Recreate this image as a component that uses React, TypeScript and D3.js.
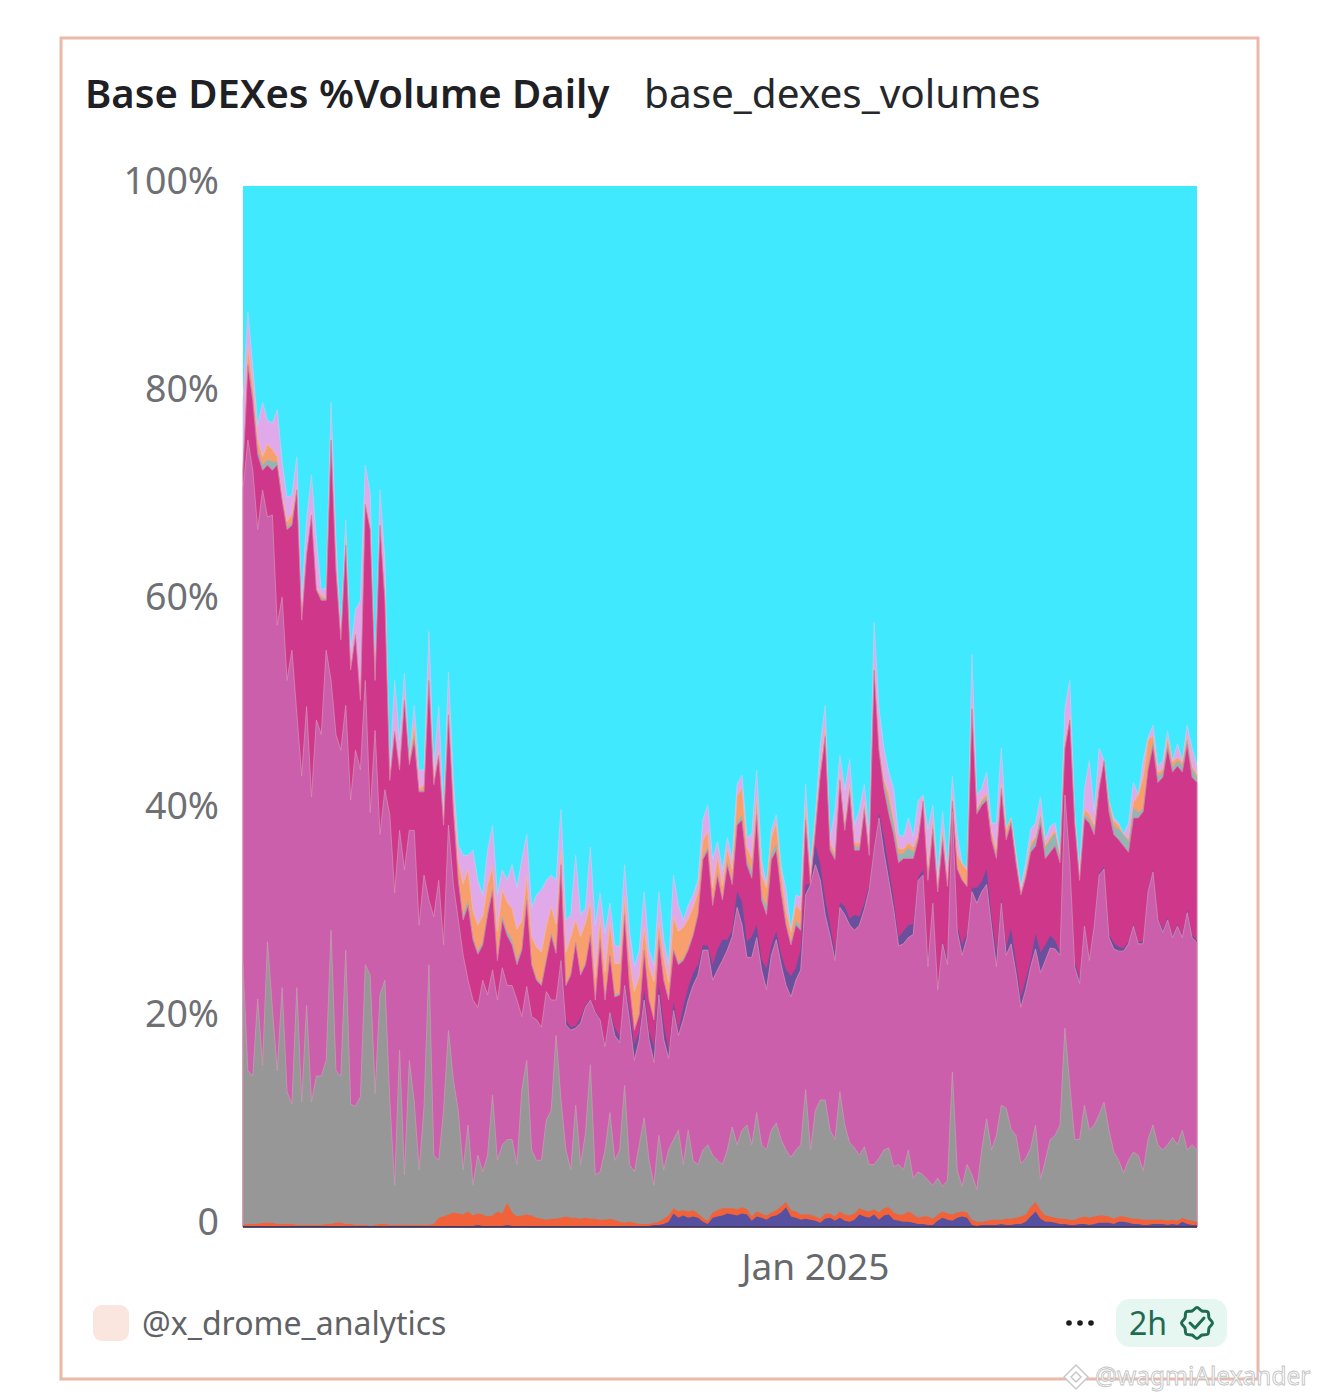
import * as d3 from 'd3';

// shares of daily DEX volume on Base, in % (one value per day)
const startDate = new Date(Date.UTC(2024, 8, 6));
const tickDate = new Date(Date.UTC(2025, 0, 1));
const tickLabel = 'Jan 2025';
const yTicks = [0, 20, 40, 60, 80, 100];

// cumulative upper edges
const lilacTop = [
  79.4,87.9,82.6,77,79.2,77.5,77.2,78.5,73.5,70.1,
  70.3,74,60.2,67.9,72.2,66,61.2,61.4,79.2,66,
  57.1,67.9,55.4,59.3,60.2,73.2,70.5,52.8,70.8,64.1,
  43.6,52.5,46.8,53.2,44.9,50.1,43.9,43.9,57.2,43.9,
  50,40,53.3,42.9,36.7,35.7,35.7,36.2,33.3,31.9,
  36.2,38.6,31.9,34.3,33.3,34.8,32.6,35.3,37.7,30.7,
  31.9,32.4,33.3,33.8,33.3,40.1,29.5,30,35.7,30,
  30.6,36.5,29,32.1,28.2,31.1,27.1,26.9,34.8,28.5,
  25,26.6,32.2,26.6,25.2,32.2,27.6,25.2,33.8,30.9,
  29.5,30.9,31.9,33.3,39.1,40.5,35.3,37,34.3,37.4,
  35.3,42.5,43.4,37.4,37.7,43.9,35.3,32.9,38.1,39.6,
  34.6,32.4,28.5,31.9,31.7,42.5,34.8,39.6,46.3,50.1,
  37.2,40.1,45.3,42,44.9,38.6,40.1,42.5,37.7,58.1,
  49.8,46,43.7,42.1,37.7,37.5,39.3,37.5,40.9,41.5,
  38.2,40.5,33.8,39.9,34.6,43.3,37.7,35,34.4,55,
  41.5,42.1,43.7,38.8,38.8,46,38.2,39.3,36,32.7,
  35,38.2,38.8,41.3,37.2,38.5,38.8,36,49.8,52.5,
  39.9,34.4,42.1,44.8,39.9,46,44.8,40.9,39.3,38.8,
  37.7,38.8,42.7,41.5,44.8,47,48.2,44.3,44.8,47.6,
  44.8,46.4,44.8,48.2,46,44.3,
];
const magentaTop = [
  72.7,82.8,79.4,74.2,72.7,73.2,72.7,73.2,69.8,67,
  67.4,70.8,58.3,64.6,68.4,61.2,60.2,60.2,75.6,63.1,
  56.4,65.5,53.5,56.9,50.6,69.4,67,52.5,67.4,60.2,
  42.9,47.6,43.9,50.6,44.4,46.8,41.8,41.8,52.5,42.5,
  45.3,38.6,49.2,40.1,33.3,29.5,30.9,27.6,26.2,27.1,
  30,32.3,25.6,29.5,28,27.1,25.2,26.6,31.4,25.2,
  23.7,23.2,25.6,28,26.3,34.8,23.2,24.2,27.3,24.2,
  25.2,28,21.8,27.6,21.8,26.1,22.1,22.3,30,23.2,
  18.9,20.4,26.6,21.8,19.9,27.6,23.7,21.8,26.6,25.2,
  25.6,26.6,28,30,35.3,36.2,30.9,33.8,31.4,34.8,
  32.9,38.6,39.1,34.8,33.5,39.6,31.4,30,35.3,36.2,
  32.1,29,27.1,29,28.5,39.1,32.9,38.1,43.4,47.1,
  36.2,35.3,42.9,38.1,41.8,36.2,36.2,40.1,35.7,53.5,
  45.7,42.1,39.7,37.7,35,35.4,35.4,35.4,37.2,40.9,
  33.3,38.2,32.2,37.2,32.7,40.9,34.4,33.3,32.7,49.8,
  39.7,40.5,41,37.2,35.4,42.1,37.2,38.8,35,31.9,
  33.6,36,36.6,38.8,35.4,36,36.6,35,46,48.7,
  38.8,33.3,39.3,38.8,37.7,42.1,44.8,39.9,37.7,37.2,
  36.6,36,39.3,39.3,39.9,44,46.2,42.7,43.2,46,
  43.7,44.3,43.7,46.4,43.2,42.7,
];
const pinkTop = [
  70.8,75.6,72.7,67,70.8,68.2,68.4,57.8,60.5,52.5,
  55.4,49.3,43.3,50,41.3,48.7,47.3,55.4,52.5,47.3,
  45.8,50.1,41,45.8,43.9,52.5,39.8,47.7,37.7,42,
  39.6,32.1,38.1,34.3,38.1,38.1,29,33.8,31.4,29.8,
  33.3,27.1,38.6,32.9,29.5,26.1,23.7,21.8,21.1,23.7,
  22.3,24.7,21.8,24.9,23.2,23.2,21.8,20.2,23.1,20.2,
  19.9,19.2,22.6,21.8,21.8,25.6,19.4,18.9,19.1,19.6,
  21.1,21.8,20.6,19.9,17.3,20.6,18.4,17.7,23.2,19.9,
  16,18,21.8,18,15.8,22.3,18,16.2,20.8,18.4,
  19.9,21.8,23.2,24.2,26.6,26.6,23.7,24.7,25.6,26.6,
  27.9,30.7,29,25.9,25.9,27.8,24.7,22.8,26.1,27.6,
  25.2,23.2,22.1,23.7,24.7,31.9,32.9,34.8,33.3,30,
  28,25.6,30.7,30,29,28.5,29,30.5,32.4,36.2,
  39.3,36,33.3,30.5,27,27.2,27.8,28.1,33.3,33.8,
  25,31.1,22.8,27.2,25.2,39.9,28.4,26.1,27.8,32.2,
  31.1,32.2,32.9,28.9,25,31.1,26.1,27.2,24.4,21.1,
  22.8,25,26.7,24.4,25.6,26.8,26.7,26.1,41.5,35,
  25,23.4,28.9,25.6,28.9,33.8,34.4,27.8,26.7,26.5,
  26.5,27.2,28.9,27.2,27.2,32.2,34.1,29.5,28.3,29.5,
  27.8,28.9,27.8,30.2,27.8,27.3,
];
const grayTop = [
  25.2,15,14.5,21.9,15.5,27.4,21,15,23,13,
  11.8,23,12,21.3,12,14.5,14.5,16,28.5,15,
  14.5,26.6,11.8,11.6,12.5,25.2,24.2,12.8,22.3,23.7,
  12.2,4,17,5,16,12,5.5,11.5,25.2,6.9,
  6.4,11.2,18.9,14.1,11.2,5.5,9.8,4,6.9,5.3,
  6.9,12.7,6.4,7.9,8.4,8.4,6,13.2,16,7.4,
  6.4,6.4,10.3,11.2,18.4,12.2,7.4,5.5,11.7,6,
  9,15.6,5,5.3,7.4,11,6.4,7.4,13.6,6,
  5.3,7.9,10.5,6.4,4,8.8,5.5,7.4,8.4,9.3,
  6,9.3,6.4,6,7.4,7.9,6.9,6.4,6,7.4,
  9.6,7.9,9.3,9.8,7.9,11,7.9,7.4,9.3,10,
  8.4,7.4,6.7,7.4,7.9,13.2,7.4,11.2,12.2,12.2,
  9.3,8.4,13,9.8,8.1,7.6,6.9,7.7,6,6,
  6.6,7.4,7.6,5.8,6,5.5,7.4,4.7,5.3,5,
  4.5,4,4.7,3.9,4.5,14.9,5.4,3.9,6,5,
  3.6,7.4,10.4,7.4,8.8,11.7,11.4,9.4,8.8,6.1,
  6.6,7.6,9.8,4.6,6.4,8.4,8.8,9.8,19.1,13.6,
  8.4,8.4,11.7,9.3,9.8,10.8,12,9.3,7.2,6.4,
  5.2,6.4,7.2,6.9,5.4,8.4,9.8,7.9,7.4,7.9,
  8.6,7.9,9.3,7.4,7.9,7.4,
];
const redTop = [
  .2,.3,.3,.3,.4,.4,.4,.3,.3,.3,
  .3,.2,.2,.2,.2,.2,.2,.3,.3,.4,
  .4,.3,.3,.2,.2,.2,.1,.2,.3,.3,
  .2,.2,.2,.2,.2,.2,.2,.2,.2,.3,
  .9,1,1.2,1.4,1.3,1.2,1.5,1.1,1.3,1.2,
  1,1.1,1.5,1.3,2.3,1.4,1,1.1,1.2,1.1,
  .9,.8,.7,.8,.8,.9,1,.9,.9,.8,
  .9,.8,.8,.7,.7,.8,.7,.5,.4,.5,
  .4,.3,.3,.3,.4,.5,.8,1.1,1.8,1.5,
  1.6,1.5,1.6,1.3,.9,.6,1.4,1.6,1.8,1.8,
  1.8,1.7,1.9,1.7,1,1.5,1.3,1.1,1.4,1.6,
  2,2.4,1.6,1.5,1.2,1.2,1.2,1,.8,1.3,
  1.3,1,1.5,1.2,1.1,1.3,1.8,1.6,1.5,1.7,
  1.4,1.8,1.9,1.4,1.2,1.2,1.5,1.2,.9,1,
  1,.8,1.2,1.5,1.3,1.2,1.4,1.5,1.4,.7,
  .5,.5,.6,.7,.7,.7,.8,.8,.9,1,
  1.2,1.9,2.4,1.6,1.1,1,.9,.8,.8,.7,
  .7,.9,1,.9,1,1.1,1.1,1,.8,1,
  1,.9,.8,.8,.7,.7,.7,.7,.7,.6,
  .7,.6,.9,.7,.6,.5,
];
const blueTop = [
  .1,.1,.1,.1,.1,.1,.1,.1,.1,.1,
  .1,.1,.1,.1,.1,.1,.1,.1,.1,.1,
  .1,.1,.1,.1,.1,.1,.1,.1,.1,.1,
  .1,.1,.1,.1,.1,.1,.1,.1,.1,.1,
  .1,.1,.1,.1,.1,.1,.1,.1,.2,.1,
  .1,.1,.1,.1,.2,.1,.1,.1,.1,.1,
  .1,.1,.1,.1,.1,.1,.1,.1,.1,.1,
  .1,.1,.1,.1,.1,.1,.1,.1,.1,.1,
  .1,.1,.1,.1,.2,.2,.3,.5,1.3,.9,
  1.1,.9,1,.9,.5,.3,.9,1,1.1,1.3,
  1.2,1.1,1.3,1.2,.6,1,.9,.7,1,1.1,
  1.4,1.9,1,.9,.7,.8,.7,.6,.4,.8,
  .9,.6,.9,.6,.5,.7,1.2,1,.9,1.2,
  .7,1.1,1.2,.7,.6,.5,.5,.4,.3,.3,
  .2,.2,.6,.9,.7,.6,.9,1,.9,.2,
  .1,.2,.2,.2,.2,.3,.2,.2,.3,.3,
  .5,1,1.5,.8,.5,.5,.4,.3,.3,.2,
  .2,.3,.3,.2,.3,.4,.4,.4,.3,.5,
  .5,.4,.3,.3,.2,.2,.3,.3,.3,.2,
  .3,.2,.5,.3,.2,.2,
];

// thin bands, as thickness
const purpleBand = [
  0,0,0,0,0,0,0,0,0,0,
  0,0,0,0,0,0,0,0,0,0,
  0,0,0,0,0,0,0,0,0,0,
  0,0,0,0,0,0,0,0,0,0,
  0,0,0,0,0,0,0,0,0,0,
  0,0,0,0,0,0,0,0,0,0,
  0,0,0,0,0,.2,.5,.3,.2,.5,
  .2,.1,.1,.2,.3,.2,.8,.6,.2,1,
  1.5,.8,1,.8,1.5,1,1.5,.8,.8,.5,
  1.3,1.2,1.2,1,.5,.4,1.5,2,2,1,
  .6,1.5,2.3,1.5,2,1.2,1,2,1,.8,
  1,1.5,2,1.2,2,1,1,2,1.5,1.5,
  1,.8,.5,.8,.6,1.5,.8,.6,.4,.3,
  .5,1.5,1.2,1,.8,1.2,1.2,1,.3,.5,
  .5,.2,.3,.3,.5,.1,.5,1,.5,.4,
  1.5,1,1.5,1,1.3,.5,.8,1.5,1,1,
  1,.6,1.5,2,1.5,1.2,.8,.4,.1,.3,
  .5,.6,.2,.2,.2,.2,.2,.3,.6,.4,
  .3,.2,.2,.2,.2,.2,.2,.2,.3,.2,
  .2,.2,.2,.3,.3,.2,
];
const tealBand = [
  .1,.3,.5,.5,.5,.5,.8,.3,.2,.3,
  .3,.1,.1,.1,.1,.1,.2,.1,.1,.2,
  .1,.4,.1,.1,.1,.1,.1,.1,.1,.1,
  .1,.1,.1,.2,.2,.5,.1,.2,.1,.2,
  .1,.2,.1,.2,.3,.5,.5,.3,.3,.3,
  .4,.3,.3,.4,.4,.5,.4,.3,.3,.2,
  .2,.2,.3,.3,.3,.2,.2,.2,.2,.2,
  .2,.2,.2,.2,.2,.2,.2,.2,.2,.2,
  .2,.2,.2,.2,.2,.2,.2,.2,.2,.2,
  .2,.2,.2,.2,.3,.3,.2,.3,.2,.3,
  .3,.3,.4,.5,.7,.5,.5,.8,.6,.6,
  .4,.3,.3,.4,.4,.3,.3,.3,.3,.3,
  .3,.3,.3,.4,.4,.4,.3,.4,.2,.1,
  .3,.6,1.2,1,.8,.5,1,.6,.2,.1,
  .5,.5,.2,.5,.2,.2,.2,.1,.1,.1,
  .3,.3,.3,.3,.3,.2,.3,.3,.2,.1,
  .3,.5,.6,.7,1,1.2,1.2,.5,.3,.1,
  .2,.2,.3,.4,.5,.3,.2,.7,.8,1,
  1.2,1,1,.5,.3,.3,.5,.6,.5,.5,
  .5,.5,.6,.5,.8,.5,
];
const orangeBand = [
  .2,1.5,1,1,.8,1.5,1.2,.5,.3,.5,
  .8,.3,.1,.1,.1,.1,.3,.1,.1,.3,
  .1,.3,.1,.1,.1,.1,.1,.1,.1,.1,
  .1,.1,.1,.1,.3,1,.2,.5,.1,.5,
  .3,.5,.3,.8,1.5,3,3,2.5,2.5,2.5,
  2.5,2,2.5,2.5,2.8,3,3,2.5,2,2.5,
  3,3,3,2.5,2.5,1.2,3,3.5,2,3.5,
  3.8,3,2,2,2.5,3,3,2.8,1.5,2.5,
  3.5,3.5,2,3,3.5,1.5,2,1.5,3,3,
  3,2.8,2.5,2,1.5,1.5,1.5,1.5,1.2,1.2,
  1.2,2.5,2.7,1.2,1.2,1.2,2,1.8,1.5,2,
  1.5,1.2,1,1.5,1.5,1,.8,.6,.5,.5,
  .4,.4,.3,.3,.3,.3,.4,.3,.3,.2,
  .2,.3,.8,.5,.6,.4,.5,.5,.3,.2,
  .8,.5,.5,.5,.5,.3,1.2,1.5,1.5,.1,
  .2,.3,.3,.5,.6,.3,.8,.4,.3,.2,
  .3,.4,.3,.2,.3,.3,.3,.3,.3,.2,
  .2,.3,.5,.5,.5,.3,.2,.6,.5,.4,
  .5,.3,.5,2,3,2.5,.5,.4,.3,.5,
  .5,.3,.4,.3,.3,.3,
];

const font = '"Noto Sans", sans-serif';
const dates = lilacTop.map((_, i) => d3.utcDay.offset(startDate, i));

const x = d3.scaleUtc().domain([dates[0], dates[dates.length - 1]]).range([243, 1197]);
const y = d3.scaleLinear().domain([0, 100]).range([1227, 186]);

const area = d3.area<number>()
  .x((_, i) => x(dates[i]))
  .y0(y(0))
  .y1((d) => y(d));

// painted back to front, each one from the baseline up to its own upper edge
const purpleEdge = pinkTop.map((d, i) => Math.min(d + purpleBand[i], magentaTop[i]));
const tealEdge = magentaTop.map((d, i) => Math.min(d + tealBand[i], lilacTop[i]));
const orangeEdge = tealEdge.map((d, i) => Math.min(d + orangeBand[i], lilacTop[i]));

const layers = [
  { edge: lilacTop, fill: '#dfa9ea', stroke: '#b6d2f2' },
  { edge: orangeEdge, fill: '#f7a06e', stroke: '#f2b7a8' },
  { edge: tealEdge, fill: '#93b5b4', stroke: 'none' },
  { edge: magentaTop, fill: '#cf388a', stroke: '#dc7fa8' },
  { edge: purpleEdge, fill: '#6a4f9f', stroke: 'none' },
  { edge: pinkTop, fill: '#cb5fab', stroke: '#d98cb0' },
  { edge: grayTop, fill: '#979797', stroke: '#c59ab0' },
  { edge: redTop, fill: '#f1623a', stroke: 'none' },
  { edge: blueTop, fill: '#55509f', stroke: 'none' },
];

const badgeLine = d3.lineRadial<number>()
  .angle((_, i) => (i / 16) * 2 * Math.PI)
  .radius((d) => d)
  .curve(d3.curveCardinalClosed);
const badgeRadii = [15.5, 13, 15.5, 13, 15.5, 13, 15.5, 13, 15.5, 13, 15.5, 13, 15.5, 13, 15.5, 13];

export default function App() {
  return (
    <svg
      width={1320}
      height={1400}
      style={{ position: 'absolute', left: 0, top: 0, background: '#fff' }}
      fontFamily={font}
    >
      <rect x={61} y={38} width={1197} height={1341} fill="#fff" stroke="#e9b9aa" strokeWidth={3} />

      <text x={85} y={108} fontSize={40} fontWeight={600} fill="#1e2024">Base DEXes %Volume Daily</text>
      <text x={644} y={108} fontSize={40.5} fill="#25272b">base_dexes_volumes</text>

      <rect x={243} y={186} width={954} height={1041} fill="#41e9ff" />
      {layers.map((l, i) => (
        <path key={i} d={area(l.edge) ?? ''} fill={l.fill} stroke={l.stroke} strokeWidth={0.8} />
      ))}
      <line x1={243} x2={1197} y1={y(0)} y2={y(0)} stroke="#3a3550" strokeWidth={1.5} />

      {yTicks.map((t) => (
        <text key={t} x={219} y={y(t) + 8} textAnchor="end" fontSize={37.5} fill="#6e7074">
          {t === 0 ? '0' : `${t}%`}
        </text>
      ))}
      <text x={x(tickDate)} y={1280} textAnchor="middle" fontSize={37} fill="#66686c">{tickLabel}</text>

      <rect x={93} y={1305} width={36} height={36} rx={9} fill="#fbe5df" />
      <text x={142} y={1335} fontSize={32} fill="#606266">@x_drome_analytics</text>

      {[1069, 1080, 1091].map((cx) => (
        <circle key={cx} cx={cx} cy={1323} r={2.8} fill="#1c1c1c" />
      ))}
      <rect x={1116} y={1299} width={111} height={48} rx={14} fill="#e6f6f0" />
      <text x={1129} y={1335} fontSize={32} fill="#1f6b50">2h</text>
      <g transform="translate(1197,1323)" fill="none" stroke="#1f6b50" strokeWidth={3}>
        <path d={badgeLine(badgeRadii) ?? ''} />
        <path d="M-7,0 L-2,5 L7,-5" strokeLinecap="round" strokeLinejoin="round" />
      </g>

      <g transform="translate(1076,1377)" fill="#fff" stroke="#c9c9c9" strokeWidth={1.5}>
        <path d="M0,-12 L12,0 L0,12 L-12,0 Z" />
        <path d="M0,-5 L5,0 L0,5 L-5,0 Z" />
      </g>
      <text x={1095} y={1385} fontSize={24.5} fill="#fff" stroke="#c4c4c4" strokeWidth={0.9}>@wagmiAlexander</text>
    </svg>
  );
}
